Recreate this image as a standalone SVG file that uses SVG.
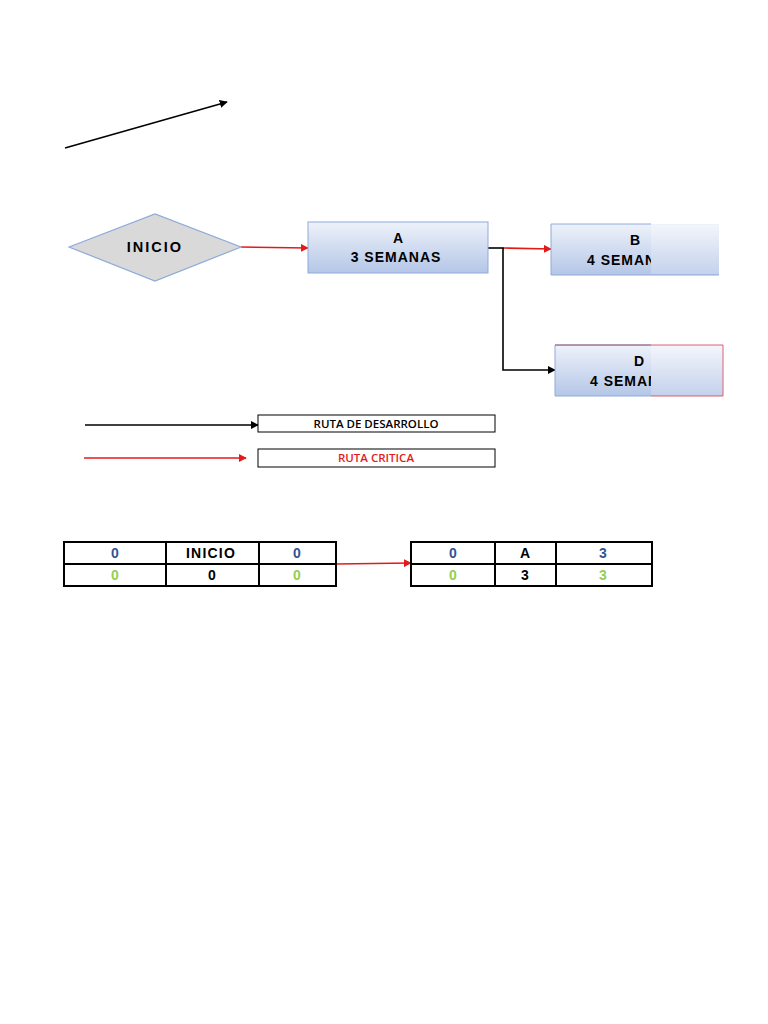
<svg xmlns="http://www.w3.org/2000/svg" width="768" height="1024" viewBox="0 0 768 1024">
<defs>
<linearGradient id="gBox" x1="0" y1="0" x2="0" y2="1">
<stop offset="0" stop-color="#eef2fa"/>
<stop offset="1" stop-color="#b4c6e7"/>
</linearGradient>
<linearGradient id="gLight" x1="0" y1="0" x2="0" y2="1">
<stop offset="0" stop-color="#f3f5fb"/>
<stop offset="1" stop-color="#c4d2ec"/>
</linearGradient>
<marker id="ab" viewBox="0 0 10 10" refX="9" refY="5" markerWidth="5" markerHeight="5" orient="auto"><path d="M0,0 L10,5 L0,10 z" fill="#000"/></marker>
<marker id="ar" viewBox="0 0 10 10" refX="9" refY="5" markerWidth="5" markerHeight="5" orient="auto"><path d="M0,0 L10,5 L0,10 z" fill="#e31a1a"/></marker>
<clipPath id="clipB"><rect x="551" y="224" width="100" height="52"/></clipPath>
<clipPath id="clipD"><rect x="555" y="345" width="96" height="52"/></clipPath>
</defs>
<style>
.t{font-family:"Liberation Sans",Arial,sans-serif;font-weight:bold;fill:#000;text-anchor:middle}
.box{fill:url(#gBox);stroke:#8eaadb;stroke-width:1}
.blk{stroke:#000;stroke-width:1.6;fill:none}
.red{stroke:#e31a1a;stroke-width:1.6;fill:none}
.leg{fill:#fff;stroke:#000;stroke-width:1}
.lt{font-family:"Open Sans","Liberation Sans",sans-serif;font-size:11.5px;font-weight:600;text-anchor:middle}
.cell{fill:#fff;stroke:#000;stroke-width:2}
.tc{font-family:"Liberation Sans",Arial,sans-serif;font-weight:bold;font-size:14px;text-anchor:middle}
.bl{fill:#2f5597}
.gr{fill:#92d050}
</style>

<g id="connectors">
<line class="blk" x1="65" y1="148" x2="227" y2="102" marker-end="url(#ab)"/>
<line class="red" x1="241" y1="247" x2="308" y2="248" marker-end="url(#ar)"/>
<line class="blk" x1="488" y1="248" x2="504" y2="248"/>
<line class="red" x1="504" y1="248" x2="551" y2="249" marker-end="url(#ar)"/>
<polyline class="blk" points="503,248 503,370 555,370" marker-end="url(#ab)"/>
<line class="blk" x1="85" y1="425" x2="258" y2="425" marker-end="url(#ab)"/>
<line class="red" x1="84" y1="458" x2="246" y2="458" marker-end="url(#ar)"/>
<line class="red" x1="336" y1="564" x2="411" y2="563" marker-end="url(#ar)"/>
</g>

<g id="inicio">
<polygon points="69,247 155,214 241,247 155,281" fill="#d9d9d9" stroke="#8eaadb" stroke-width="1.2"/>
<text class="t" x="155" y="252" font-size="14.5" letter-spacing="2">INICIO</text>
</g>

<g id="nodeA">
<rect class="box" x="308" y="222" width="180" height="51"/>
<text class="t" x="398" y="243" font-size="14">A</text>
<text class="t" x="396" y="262" font-size="14" letter-spacing="1">3 SEMANAS</text>
</g>

<g id="nodeB">
<rect x="551" y="224" width="168" height="51" fill="url(#gBox)"/>
<rect x="651" y="225" width="68" height="49" fill="url(#gLight)"/>
<path d="M651,224 L551,224 L551,275 L719,275" fill="none" stroke="#8eaadb" stroke-width="1"/>
<text class="t" x="635" y="245" font-size="14">B</text>
<text class="t" x="587" y="265" font-size="14" letter-spacing="1" style="text-anchor:start" clip-path="url(#clipB)">4 SEMANAS</text>
</g>

<g id="nodeD">
<rect x="555" y="345" width="168" height="51" fill="url(#gBox)"/>
<rect x="651" y="346" width="72" height="49" fill="url(#gLight)"/>
<path d="M651,345 L555,345 L555,396 L651,396" fill="none" stroke="#8eaadb" stroke-width="1"/>
<line x1="555" y1="345" x2="651" y2="345" stroke="#a05878" stroke-width="1"/>
<path d="M651,345 L723,345 L723,396 L651,396" fill="none" stroke="#e06070" stroke-width="1"/>
<text class="t" x="639" y="366" font-size="14">D</text>
<text class="t" x="590" y="386" font-size="14" letter-spacing="1" style="text-anchor:start" clip-path="url(#clipD)">4 SEMANAS</text>
</g>

<g id="legend-desarrollo">
<rect class="leg" x="258" y="415" width="237" height="17"/>
<text class="lt" x="376" y="428" fill="#000">RUTA DE DESARROLLO</text>
</g>
<g id="legend-critica">
<rect class="leg" x="258" y="449" width="237" height="18"/>
<text class="lt" x="376" y="462" fill="#e31a1a">RUTA CRITICA</text>
</g>

<g id="table-inicio">
<rect class="cell" x="64" y="542" width="102" height="22"/>
<rect class="cell" x="166" y="542" width="93" height="22"/>
<rect class="cell" x="259" y="542" width="77" height="22"/>
<rect class="cell" x="64" y="564" width="102" height="22"/>
<rect class="cell" x="166" y="564" width="93" height="22"/>
<rect class="cell" x="259" y="564" width="77" height="22"/>
<text class="tc bl" x="115" y="558">0</text>
<text class="tc" x="211" y="558" letter-spacing="1.2">INICIO</text>
<text class="tc bl" x="297" y="558">0</text>
<text class="tc gr" x="115" y="580">0</text>
<text class="tc" x="212" y="580">0</text>
<text class="tc gr" x="297" y="580">0</text>
</g>

<g id="table-a">
<rect class="cell" x="411" y="542" width="84" height="22"/>
<rect class="cell" x="495" y="542" width="61" height="22"/>
<rect class="cell" x="556" y="542" width="96" height="22"/>
<rect class="cell" x="411" y="564" width="84" height="22"/>
<rect class="cell" x="495" y="564" width="61" height="22"/>
<rect class="cell" x="556" y="564" width="96" height="22"/>
<text class="tc bl" x="453" y="558">0</text>
<text class="tc" x="525" y="558">A</text>
<text class="tc bl" x="603" y="558">3</text>
<text class="tc gr" x="453" y="580">0</text>
<text class="tc" x="525" y="580">3</text>
<text class="tc gr" x="603" y="580">3</text>
</g>
</svg>
